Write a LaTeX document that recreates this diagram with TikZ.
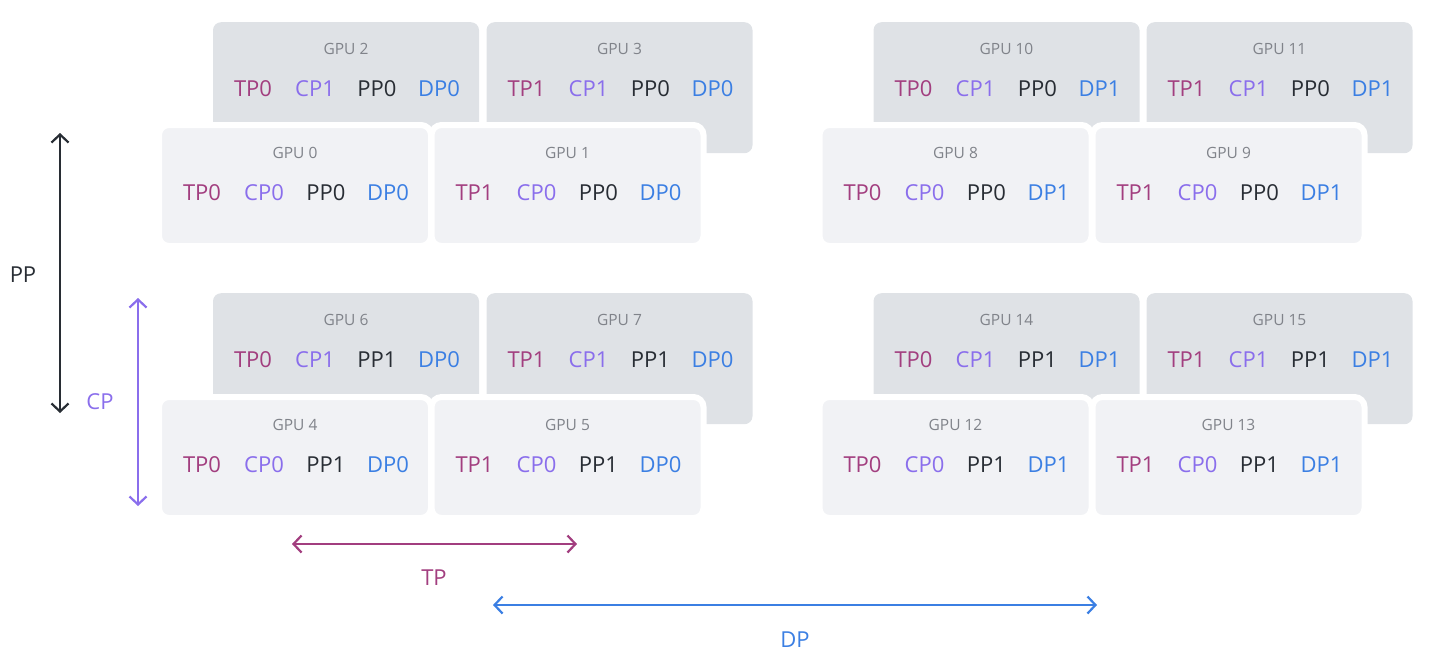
\documentclass[tikz,border=0pt]{standalone}
\usepackage{fontspec}
\setmainfont{Open Sans}
\usetikzlibrary{arrows.meta, positioning, calc}
\definecolor{tpcolor}{RGB}{162,62,127}
\definecolor{cpcolor}{RGB}{138,110,236}
\definecolor{ppcolor}{RGB}{40,45,52}
\definecolor{dpcolor}{RGB}{59,127,227}
\definecolor{labelgray}{RGB}{128,131,138}
\definecolor{backgray}{RGB}{223,226,230}
\definecolor{frontgray}{RGB}{241,242,245}

\newcommand{\gputags}[4]{%
  \makebox[62pt]{\color{tpcolor}TP#1}%
  \makebox[62pt]{\color{cpcolor}CP#2}%
  \makebox[62pt]{\color{ppcolor}PP#3}%
  \makebox[62pt]{\color{dpcolor}DP#4}}

\begin{document}
\begin{tikzpicture}[
        x=1pt, y=-1pt,
        >={Straight Barb[length=8pt,width=17pt]},
        backbox/.style={rectangle, fill=backgray, rounded corners=8pt, minimum width=266pt, minimum height=131pt, inner sep=0pt, anchor=north},
        frontbox/.style={rectangle, fill=frontgray, draw=white, line width=6pt, rounded corners=10pt, minimum width=272pt, minimum height=121pt, inner sep=0pt, anchor=north},
        gpulabel/.style={font=\fontsize{15.5}{18}\selectfont, text=labelgray, inner sep=0pt},
        tagrow/.style={font=\fontsize{22}{26}\selectfont, inner sep=0pt},
        axis/.style={line width=2.2pt, <->},
        axislabel/.style={font=\fontsize{22}{26}\selectfont, inner sep=0pt}
    ]
        \useasboundingbox (0,0) rectangle (1440,665);

        % back GPUs
        \foreach \n/\x/\y/\t/\c/\p/\d in {2/346/22/0/1/0/0, 3/619.5/22/1/1/0/0, 10/1006.5/22/0/1/0/1, 11/1279.5/22/1/1/0/1,
                                          6/346/293/0/1/1/0, 7/619.5/293/1/1/1/0, 14/1006.5/293/0/1/1/1, 15/1279.5/293/1/1/1/1} {
            \node[backbox] (g\n) at (\x,\y) {};
            \node[gpulabel] (g\n-name) at ($(g\n.north)+(0,27)$) {GPU \n};
            \node[tagrow] (g\n-tags) at ($(g\n.north)+(0,67)$) {\gputags{\t}{\c}{\p}{\d}};
        }

        % front GPUs
        \foreach \n/\x/\y/\t/\c/\p/\d in {0/295/122/0/0/0/0, 1/567.5/122/1/0/0/0, 8/955.5/122/0/0/0/1, 9/1228.5/122/1/0/0/1,
                                          4/295/394/0/0/1/0, 5/567.5/394/1/0/1/0, 12/955.5/394/0/0/1/1, 13/1228.5/394/1/0/1/1} {
            \node[frontbox] (g\n) at (\x,\y) {};
            \node[gpulabel] (g\n-name) at ($(g\n.north)+(0,31)$) {GPU \n};
            \node[tagrow] (g\n-tags) at ($(g\n.north)+(0,71)$) {\gputags{\t}{\c}{\p}{\d}};
        }

        % parallelism axes
        \coordinate (pptop) at (60,133);
        \coordinate (ppbot) at (60,413);
        \coordinate (cptop) at (138,298);
        \coordinate (cpbot) at (138,506);
        \coordinate (tpleft) at (292,544);
        \coordinate (tpright) at (577,544);
        \coordinate (dpleft) at (493,605);
        \coordinate (dpright) at (1097,605);

        \draw[axis, ppcolor] (pptop) -- (ppbot);
        \draw[axis, cpcolor] (cptop) -- (cpbot);
        \draw[axis, tpcolor] (tpleft) -- (tpright);
        \draw[axis, dpcolor] (dpleft) -- (dpright);

        \node[axislabel, text=ppcolor] (pplabel) at (23,275) {PP};
        \node[axislabel, text=cpcolor] (cplabel) at (100,402) {CP};
        \node[axislabel, text=tpcolor] (tplabel) at (434,578) {TP};
        \node[axislabel, text=dpcolor] (dplabel) at (795,640) {DP};
    \end{tikzpicture}
\end{document}
